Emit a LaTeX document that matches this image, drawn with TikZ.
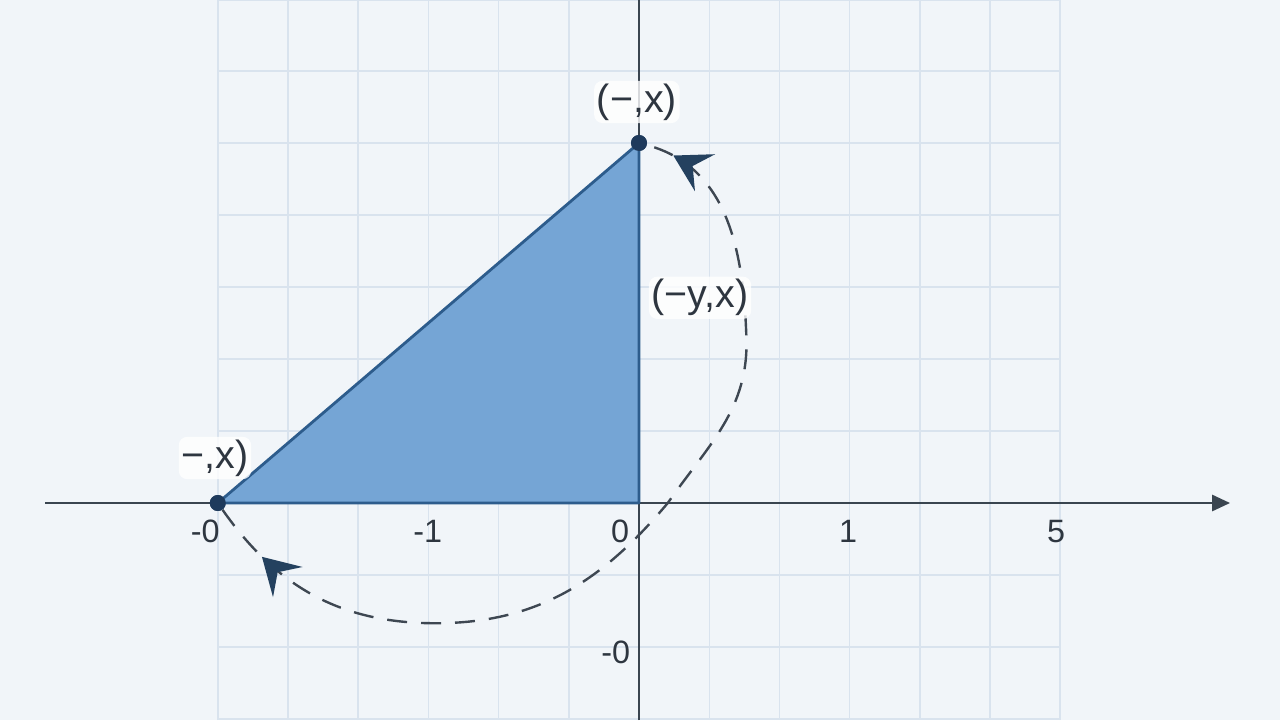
\documentclass[tikz,border=0pt]{standalone}
\usepackage{fontspec}
\setmainfont{Liberation Sans}
\usetikzlibrary{arrows.meta,decorations.markings}
\definecolor{bgc}{HTML}{F1F5F9}
\definecolor{gridc}{HTML}{D9E3EE}
\definecolor{axisc}{HTML}{3A4550}
\definecolor{fillc}{HTML}{75A5D5}
\definecolor{edgec}{HTML}{2D5C8C}
\definecolor{dotc}{HTML}{1E3A5C}
\definecolor{headc}{HTML}{24415F}
\definecolor{dashc}{HTML}{3E4752}
\definecolor{txtc}{HTML}{2E3640}
\tikzstyle{gridln}=[draw=gridc,line width=1pt]
\tikzstyle{axis}=[draw=axisc,line width=2pt]
\tikzstyle{tri}=[fill=fillc,draw=edgec,line width=2pt,line join=round]
\tikzstyle{dot}=[circle,fill=dotc,minimum size=0.4cm,inner sep=0pt]
\tikzstyle{lbl}=[text=txtc,font=\fontsize{28}{32}\selectfont,fill=white,fill opacity=0.8,text opacity=1,inner sep=2pt,rounded corners=6pt]
\tikzstyle{tick}=[text=txtc,font=\fontsize{23}{27}\selectfont]
\tikzstyle{swing}=[draw=dashc,line width=1.7pt,dash pattern=on 0.5cm off 0.35cm,
  postaction={decorate,decoration={markings,
    mark=at position 0.065 with {\arrowreversed[headc]{Stealth[length=0.9cm,width=1.05cm,inset=0.35cm]}},
    mark=at position 0.97 with {\arrow[headc]{Stealth[length=0.9cm,width=1.05cm,inset=0.35cm]}}}}]

\begin{document}
\begin{tikzpicture}[x=1.755cm,y=1.8cm]
\fill[bgc] (-9.1026,-3.0139) rectangle (9.1311,6.9861);
\useasboundingbox (-9.1026,-3.0139) rectangle (9.1311,6.9861);
\draw[gridln,step=1] (-6,-3.0139) grid (6,6.9861);
\draw[gridln] (-6,6.986) -- (6,6.986);

\coordinate (O) at (0,0);
\coordinate (xl) at (-8.46,0);
\coordinate (xr) at (8.42,0);
\coordinate (yb) at (0,-3.0139);
\coordinate (yt) at (0,6.9861);
\draw[axis,-{Triangle[length=0.45cm,width=0.4cm]}] (xl) -- (xr);
\draw[axis] (yb) -- (yt);

\node[dot] (L) at (-6,0) {};
\node[dot] (T) at (0,5) {};
\fill[tri] (L.center) -- (T.center) -- (O) -- cycle;
\node[dot] at (L.center) {};
\node[dot] at (T.center) {};

\coordinate (c1) at (-2.9,-1.67);
\coordinate (c2) at (0.41,0);
\coordinate (c3) at (1.53,2.3);
\draw[swing] (L) to[out=-55,in=180] (c1) to[out=0,in=-130] (c2) to[out=55,in=-88] (c3) to[out=92,in=-15] (T);

\node[lbl] (ltop) at (-0.03,5.57) {(−,x)};
\node[lbl] (lmid) at (0.87,2.85) {(−y,x)};
\node[lbl] (lleft) at (-6.04,0.625) {−,x)};

\node[tick] (t1) at (-6.18,-0.39) {-0};
\node[tick] (t2) at (-3.01,-0.39) {-1};
\node[tick] (t3) at (-0.27,-0.39) {0};
\node[tick] (t4) at (2.98,-0.39) {1};
\node[tick] (t5) at (5.94,-0.39) {5};
\node[tick] (t6) at (-0.33,-2.07) {-0};
\end{tikzpicture}
\end{document}
